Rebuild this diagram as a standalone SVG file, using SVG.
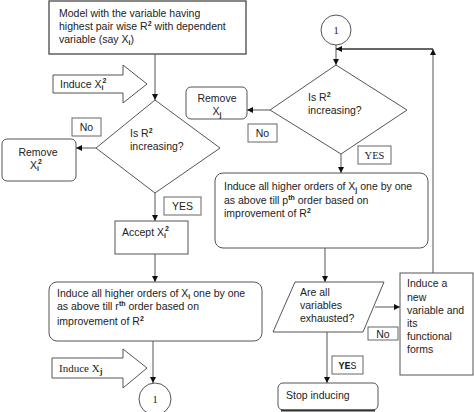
<svg xmlns="http://www.w3.org/2000/svg" width="474" height="412" viewBox="0 0 474 412">
<style>
  text { font-family: "Liberation Sans", Arial, sans-serif; font-size: 10.5px; fill: #222; }
  .serif { font-family: "Liberation Serif", "Times New Roman", serif; }
  .box { fill: #fff; stroke: #555; stroke-width: 1; }
  .lbl { fill: #fff; stroke: #666; stroke-width: 1; }
  .conn { fill: none; stroke: #555; stroke-width: 1; }
  .sub { font-size: 7px; font-weight: bold; }
  .sup { font-size: 7px; font-weight: bold; }
</style>
<defs>
  <marker id="arr" viewBox="0 0 6 6" refX="6" refY="3" markerWidth="6" markerHeight="6" markerUnits="userSpaceOnUse" orient="auto">
    <path d="M0,0 L6,3 L0,6 Z" fill="#111"/>
  </marker>
</defs>
<rect width="474" height="412" fill="#fff"/>

<g id="connectors">
  <path class="conn" d="M155,54 V100" marker-end="url(#arr)"/>
  <path class="conn" d="M96,148 H76" marker-end="url(#arr)"/>
  <path class="conn" d="M155,193 V221" marker-end="url(#arr)"/>
  <path class="conn" d="M155,254 V282" marker-end="url(#arr)"/>
  <path class="conn" d="M153,341 V383" marker-end="url(#arr)"/>
  <path class="conn" d="M336,45 V65" marker-end="url(#arr)"/>
  <path class="conn" d="M270,110 H247" marker-end="url(#arr)"/>
  <path class="conn" d="M341,154 V173" marker-end="url(#arr)"/>
  <path class="conn" d="M325,248 V282" marker-end="url(#arr)"/>
  <path class="conn" d="M375,307 H400" marker-end="url(#arr)"/>
  <path class="conn" d="M327,332 V383" marker-end="url(#arr)"/>
  <path class="conn" d="M433,273 V49" marker-end="url(#arr)"/>
  <path class="conn" d="M433,49 H336" style="stroke:#333;stroke-width:1.5" marker-end="url(#arr)"/>
</g>

<g id="start">
  <rect class="box" x="49" y="1" width="197" height="53" style="stroke-width:1.4"/>
  <text x="59" y="17">Model with the variable having</text>
  <text x="59" y="30">highest pair wise R<tspan class="sup" dy="-4">2</tspan><tspan dy="4"> with dependent</tspan></text>
  <text x="59" y="43">variable (say X<tspan class="sub" dy="2">i</tspan><tspan dy="-2">)</tspan></text>
</g>

<g id="induce-xi2">
  <polygon class="box" points="53,75 123,75 123,65 147,84 123,103 123,93 53,93"/>
  <text x="60" y="88">Induce X<tspan class="sub" dy="2">i</tspan><tspan class="sup" dx="-1" dy="-7">2</tspan></text>
</g>

<g id="decision1">
  <polygon class="box" points="155,100 220,148 155,193 96,148"/>
  <text x="130" y="137">Is R<tspan class="sup" dy="-4">2</tspan></text>
  <text x="130" y="150">increasing?</text>
</g>

<g id="no1">
  <rect class="lbl" x="72" y="118" width="29" height="18"/>
  <text x="86.5" y="131" text-anchor="middle">No</text>
</g>

<g id="remove-xi2">
  <rect class="box" x="2" y="139" width="74" height="42" rx="5"/>
  <text x="38" y="156" text-anchor="middle">Remove</text>
  <text x="36" y="169" text-anchor="middle">X<tspan class="sub" dy="2">i</tspan><tspan class="sup" dx="-1" dy="-7">2</tspan></text>
</g>

<g id="yes1">
  <rect class="lbl" x="164" y="197" width="37" height="18"/>
  <text x="182.5" y="210" text-anchor="middle">YES</text>
</g>

<g id="accept">
  <rect class="box" x="115" y="221" width="73" height="33"/>
  <text x="122" y="236">Accept X<tspan class="sub" dy="2">i</tspan><tspan class="sup" dx="-1" dy="-7">2</tspan></text>
</g>

<g id="higher-xi">
  <rect class="box" x="49" y="282" width="213" height="59" rx="8"/>
  <text x="57" y="297">Induce all higher orders of X<tspan class="sub" dy="2">i</tspan><tspan dy="-2"> one by one</tspan></text>
  <text x="57" y="310">as above till r<tspan class="sup" dy="-4">th</tspan><tspan dy="4"> order based on</tspan></text>
  <text x="57" y="325">improvement of R<tspan class="sup" dy="-4">2</tspan></text>
</g>

<g id="induce-xj">
  <polygon class="box" points="52,358 123,358 123,349 147,368 123,388 123,378 52,378"/>
  <text class="serif" x="59" y="372" style="font-size:11px">Induce X<tspan class="sub" dy="2" style="font-size:8px">j</tspan></text>
</g>

<g id="connector-1-bottom">
  <ellipse class="box" cx="155" cy="399" rx="16" ry="16"/>
  <text class="serif" x="155" y="403" text-anchor="middle">1</text>
</g>

<g id="connector-1-top">
  <circle class="box" cx="336" cy="30" r="15"/>
  <text class="serif" x="336" y="34" text-anchor="middle">1</text>
</g>

<g id="decision2">
  <polygon class="box" points="336,65 407,110 341,154 270,110"/>
  <text x="308" y="101">Is R<tspan class="sup" dy="-4">2</tspan></text>
  <text x="308" y="114">increasing?</text>
</g>

<g id="remove-xj">
  <rect class="box" x="186" y="87" width="61" height="32" rx="5"/>
  <text x="217" y="102" text-anchor="middle">Remove</text>
  <text x="217" y="115" text-anchor="middle">X<tspan class="sub" dy="2">j</tspan></text>
</g>

<g id="no2">
  <rect class="lbl" x="248" y="124" width="29" height="18"/>
  <text x="262.5" y="137" text-anchor="middle">No</text>
</g>

<g id="yes2">
  <rect class="lbl" x="358" y="146" width="33" height="18"/>
  <text class="serif" x="374.5" y="159" text-anchor="middle">YES</text>
</g>

<g id="higher-xj">
  <rect class="box" x="215" y="173" width="213" height="75" rx="8"/>
  <text x="224" y="190">Induce all higher orders of X<tspan class="sub" dy="2">j</tspan><tspan dy="-2"> one by one</tspan></text>
  <text x="224" y="204">as above till p<tspan class="sup" dy="-4">th</tspan><tspan dy="4"> order based on</tspan></text>
  <text x="224" y="217">improvement of R<tspan class="sup" dy="-4">2</tspan></text>
</g>

<g id="exhausted">
  <polygon class="box" points="295,282 384,282 363,332 273,332"/>
  <text x="300" y="296">Are all</text>
  <text x="300" y="309">variables</text>
  <text x="300" y="322">exhausted?</text>
</g>

<g id="no3">
  <rect class="lbl" x="368" y="327" width="30" height="13"/>
  <text x="383" y="337.5" text-anchor="middle">No</text>
</g>

<g id="new-variable">
  <rect class="box" x="400" y="273" width="73" height="102"/>
  <text x="407" y="287">Induce a</text>
  <text x="407" y="301">new</text>
  <text x="407" y="314">variable and</text>
  <text x="407" y="327">its</text>
  <text x="407" y="340">functional</text>
  <text x="407" y="353">forms</text>
</g>

<g id="yes3">
  <rect class="lbl" x="332" y="356" width="31" height="18"/>
  <text x="347.5" y="369" text-anchor="middle" style="font-family:'Liberation Mono','Courier New',monospace;font-size:10px"><tspan font-weight="bold">YE</tspan>S</text>
</g>

<g id="stop">
  <rect class="box" x="278" y="383" width="100" height="27" rx="5"/>
  <line x1="281" y1="410.5" x2="375" y2="410.5" stroke="#333" stroke-width="2"/>
  <text x="286" y="399">Stop inducing</text>
</g>
</svg>
